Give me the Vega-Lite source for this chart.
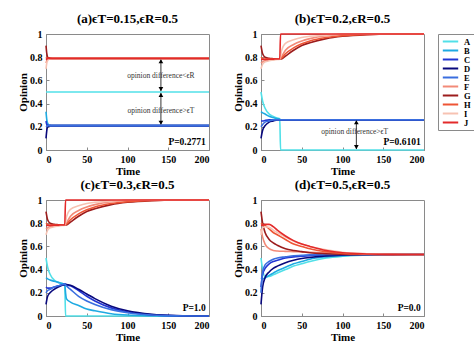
{
  "$schema": "https://vega.github.io/schema/vega-lite/v6.json",
  "padding": {"left": 17, "top": 12, "right": 5, "bottom": 2},
  "background": "white",
  "data": {"values": [
    {"p":"a","t":0,"A":0.5,"B":0.33,"C":0.25,"D":0.1,"E":0.2,"F":0.75,"G":0.9,"H":0.8,"I":0.7,"J":0.78},
    {"p":"a","t":1,"A":0.5,"B":0.26,"C":0.22,"D":0.17,"E":0.205,"F":0.77,"G":0.83,"H":0.795,"I":0.75,"J":0.785},
    {"p":"a","t":2,"A":0.5,"B":0.23,"C":0.215,"D":0.2,"E":0.208,"F":0.78,"G":0.8,"H":0.79,"I":0.77,"J":0.788},
    {"p":"a","t":3,"A":0.5,"B":0.22,"C":0.212,"D":0.205,"E":0.21,"F":0.785,"G":0.795,"H":0.79,"I":0.78,"J":0.79},
    {"p":"a","t":5,"A":0.5,"B":0.212,"C":0.21,"D":0.21,"E":0.21,"F":0.79,"G":0.79,"H":0.79,"I":0.787,"J":0.79},
    {"p":"a","t":8,"A":0.5,"B":0.21,"C":0.21,"D":0.21,"E":0.21,"F":0.79,"G":0.79,"H":0.79,"I":0.79,"J":0.79},
    {"p":"a","t":200,"A":0.5,"B":0.21,"C":0.21,"D":0.21,"E":0.21,"F":0.79,"G":0.79,"H":0.79,"I":0.79,"J":0.79},

    {"p":"b","t":0,"A":0.5,"B":0.33,"C":0.25,"D":0.1,"E":0.2,"F":0.75,"G":0.9,"H":0.8,"I":0.7,"J":0.78},
    {"p":"b","t":2,"A":0.42,"B":0.32,"C":0.25,"D":0.17,"E":0.22,"F":0.76,"G":0.83,"H":0.79,"I":0.74,"J":0.78},
    {"p":"b","t":5,"A":0.36,"B":0.31,"C":0.255,"D":0.21,"E":0.24,"F":0.77,"G":0.8,"H":0.785,"I":0.76,"J":0.78},
    {"p":"b","t":10,"A":0.31,"B":0.29,"C":0.26,"D":0.24,"E":0.25,"F":0.775,"G":0.79,"H":0.785,"I":0.77,"J":0.782},
    {"p":"b","t":15,"A":0.29,"B":0.28,"C":0.26,"D":0.25,"E":0.26,"F":0.78,"G":0.787,"H":0.785,"I":0.775,"J":0.783},
    {"p":"b","t":20,"A":0.275,"B":0.27,"C":0.26,"D":0.26,"E":0.26,"F":0.783,"G":0.785,"H":0.785,"I":0.78,"J":0.785},
    {"p":"b","t":23,"A":0.27,"B":0.265,"C":0.26,"D":0.26,"E":0.26,"F":0.785,"G":0.785,"H":0.785,"I":0.783,"J":0.785},
    {"p":"b","t":24,"A":0,"B":0.26,"C":0.26,"D":0.26,"E":0.26,"F":0.787,"G":0.785,"H":0.786,"I":0.8,"J":1},
    {"p":"b","t":25,"A":0,"B":0.26,"C":0.26,"D":0.26,"E":0.26,"F":0.8,"G":0.785,"H":0.79,"I":0.85,"J":1},
    {"p":"b","t":30,"A":0,"B":0.26,"C":0.26,"D":0.26,"E":0.26,"F":0.86,"G":0.81,"H":0.83,"I":0.92,"J":1},
    {"p":"b","t":40,"A":0,"B":0.26,"C":0.26,"D":0.26,"E":0.26,"F":0.91,"G":0.86,"H":0.88,"I":0.95,"J":1},
    {"p":"b","t":50,"A":0,"B":0.26,"C":0.26,"D":0.26,"E":0.26,"F":0.94,"G":0.9,"H":0.915,"I":0.97,"J":1},
    {"p":"b","t":60,"A":0,"B":0.26,"C":0.26,"D":0.26,"E":0.26,"F":0.96,"G":0.925,"H":0.94,"I":0.98,"J":1},
    {"p":"b","t":80,"A":0,"B":0.26,"C":0.26,"D":0.26,"E":0.26,"F":0.985,"G":0.96,"H":0.97,"I":0.99,"J":1},
    {"p":"b","t":100,"A":0,"B":0.26,"C":0.26,"D":0.26,"E":0.26,"F":0.995,"G":0.98,"H":0.985,"I":1,"J":1},
    {"p":"b","t":130,"A":0,"B":0.26,"C":0.26,"D":0.26,"E":0.26,"F":1,"G":0.995,"H":0.997,"I":1,"J":1},
    {"p":"b","t":160,"A":0,"B":0.26,"C":0.26,"D":0.26,"E":0.26,"F":1,"G":1,"H":1,"I":1,"J":1},
    {"p":"b","t":200,"A":0,"B":0.26,"C":0.26,"D":0.26,"E":0.26,"F":1,"G":1,"H":1,"I":1,"J":1},

    {"p":"c","t":0,"A":0.5,"B":0.33,"C":0.25,"D":0.1,"E":0.2,"F":0.75,"G":0.9,"H":0.8,"I":0.7,"J":0.78},
    {"p":"c","t":2,"A":0.42,"B":0.32,"C":0.24,"D":0.17,"E":0.22,"F":0.76,"G":0.83,"H":0.79,"I":0.74,"J":0.78},
    {"p":"c","t":5,"A":0.36,"B":0.31,"C":0.24,"D":0.2,"E":0.23,"F":0.77,"G":0.8,"H":0.785,"I":0.76,"J":0.78},
    {"p":"c","t":10,"A":0.31,"B":0.3,"C":0.25,"D":0.23,"E":0.25,"F":0.775,"G":0.79,"H":0.785,"I":0.77,"J":0.782},
    {"p":"c","t":15,"A":0.29,"B":0.29,"C":0.26,"D":0.25,"E":0.26,"F":0.78,"G":0.787,"H":0.785,"I":0.775,"J":0.783},
    {"p":"c","t":20,"A":0.28,"B":0.28,"C":0.27,"D":0.265,"E":0.27,"F":0.783,"G":0.785,"H":0.785,"I":0.78,"J":0.785},
    {"p":"c","t":23,"A":0.275,"B":0.275,"C":0.275,"D":0.27,"E":0.275,"F":0.785,"G":0.785,"H":0.785,"I":0.783,"J":0.785},
    {"p":"c","t":24,"A":0,"B":0.2,"C":0.275,"D":0.272,"E":0.27,"F":0.787,"G":0.785,"H":0.786,"I":0.8,"J":1},
    {"p":"c","t":25,"A":0,"B":0.15,"C":0.27,"D":0.272,"E":0.26,"F":0.8,"G":0.785,"H":0.79,"I":0.85,"J":1},
    {"p":"c","t":30,"A":0,"B":0.12,"C":0.26,"D":0.265,"E":0.23,"F":0.86,"G":0.81,"H":0.83,"I":0.92,"J":1},
    {"p":"c","t":40,"A":0,"B":0.09,"C":0.22,"D":0.23,"E":0.17,"F":0.91,"G":0.86,"H":0.88,"I":0.95,"J":1},
    {"p":"c","t":50,"A":0,"B":0.06,"C":0.17,"D":0.19,"E":0.13,"F":0.94,"G":0.9,"H":0.915,"I":0.97,"J":1},
    {"p":"c","t":60,"A":0,"B":0.045,"C":0.13,"D":0.15,"E":0.1,"F":0.96,"G":0.925,"H":0.94,"I":0.98,"J":1},
    {"p":"c","t":80,"A":0,"B":0.02,"C":0.07,"D":0.085,"E":0.055,"F":0.985,"G":0.96,"H":0.97,"I":0.99,"J":1},
    {"p":"c","t":100,"A":0,"B":0.008,"C":0.035,"D":0.045,"E":0.028,"F":0.995,"G":0.98,"H":0.985,"I":1,"J":1},
    {"p":"c","t":130,"A":0,"B":0.002,"C":0.01,"D":0.015,"E":0.008,"F":1,"G":0.995,"H":0.997,"I":1,"J":1},
    {"p":"c","t":160,"A":0,"B":0,"C":0.002,"D":0.004,"E":0.002,"F":1,"G":1,"H":1,"I":1,"J":1},
    {"p":"c","t":200,"A":0,"B":0,"C":0,"D":0,"E":0,"F":1,"G":1,"H":1,"I":1,"J":1},

    {"p":"d","t":0,"A":0.5,"B":0.33,"C":0.25,"D":0.1,"E":0.2,"F":0.75,"G":0.9,"H":0.8,"I":0.7,"J":0.78},
    {"p":"d","t":2,"A":0.4,"B":0.32,"C":0.36,"D":0.25,"E":0.38,"F":0.68,"G":0.8,"H":0.79,"I":0.76,"J":0.785},
    {"p":"d","t":5,"A":0.34,"B":0.33,"C":0.41,"D":0.33,"E":0.44,"F":0.62,"G":0.72,"H":0.78,"I":0.77,"J":0.79},
    {"p":"d","t":10,"A":0.34,"B":0.35,"C":0.45,"D":0.38,"E":0.47,"F":0.58,"G":0.66,"H":0.75,"I":0.765,"J":0.79},
    {"p":"d","t":15,"A":0.355,"B":0.37,"C":0.47,"D":0.41,"E":0.49,"F":0.565,"G":0.63,"H":0.72,"I":0.74,"J":0.77},
    {"p":"d","t":20,"A":0.37,"B":0.39,"C":0.48,"D":0.43,"E":0.5,"F":0.56,"G":0.61,"H":0.7,"I":0.72,"J":0.74},
    {"p":"d","t":30,"A":0.4,"B":0.42,"C":0.5,"D":0.46,"E":0.51,"F":0.557,"G":0.58,"H":0.66,"I":0.68,"J":0.69},
    {"p":"d","t":40,"A":0.43,"B":0.45,"C":0.51,"D":0.48,"E":0.52,"F":0.555,"G":0.565,"H":0.62,"I":0.645,"J":0.65},
    {"p":"d","t":50,"A":0.45,"B":0.47,"C":0.515,"D":0.495,"E":0.523,"F":0.553,"G":0.555,"H":0.6,"I":0.62,"J":0.62},
    {"p":"d","t":60,"A":0.47,"B":0.49,"C":0.52,"D":0.505,"E":0.527,"F":0.55,"G":0.545,"H":0.58,"I":0.6,"J":0.6},
    {"p":"d","t":80,"A":0.5,"B":0.51,"C":0.527,"D":0.518,"E":0.53,"F":0.545,"G":0.537,"H":0.555,"I":0.57,"J":0.565},
    {"p":"d","t":100,"A":0.515,"B":0.52,"C":0.53,"D":0.525,"E":0.53,"F":0.538,"G":0.533,"H":0.54,"I":0.55,"J":0.545},
    {"p":"d","t":130,"A":0.525,"B":0.528,"C":0.53,"D":0.53,"E":0.53,"F":0.533,"G":0.53,"H":0.533,"I":0.537,"J":0.535},
    {"p":"d","t":160,"A":0.53,"B":0.53,"C":0.53,"D":0.53,"E":0.53,"F":0.53,"G":0.53,"H":0.53,"I":0.532,"J":0.531},
    {"p":"d","t":200,"A":0.53,"B":0.53,"C":0.53,"D":0.53,"E":0.53,"F":0.53,"G":0.53,"H":0.53,"I":0.53,"J":0.53},

    {"p":"a","k":"rule","x":141,"y":0.775,"y2":0.51},
    {"p":"a","k":"rule","x":141,"y":0.49,"y2":0.225},
    {"p":"a","k":"up","x":141,"y":0.765},
    {"p":"a","k":"down","x":141,"y":0.525},
    {"p":"a","k":"up","x":141,"y":0.475},
    {"p":"a","k":"down","x":141,"y":0.235},
    {"p":"a","k":"txt","x":141,"y":0.635,"label":"opinion difference<ϵR"},
    {"p":"a","k":"txt","x":141,"y":0.335,"label":"opinion difference>ϵT"},
    {"p":"a","k":"P","x":196,"y":0.07,"label":"P=0.2771"},
    {"p":"b","k":"rule","x":117,"y":0.25,"y2":0.01},
    {"p":"b","k":"up","x":117,"y":0.24},
    {"p":"b","k":"down","x":117,"y":0.025},
    {"p":"b","k":"txt","x":115,"y":0.155,"label":"opinion difference>ϵT"},
    {"p":"b","k":"P","x":196,"y":0.07,"label":"P=0.6101"},
    {"p":"c","k":"P","x":196,"y":0.07,"label":"P=1.0"},
    {"p":"d","k":"P","x":196,"y":0.07,"label":"P=0.0"}
  ]},
  "facet": {
    "field": "p", "type": "nominal",
    "header": {
      "title": null,
      "labelExpr": "datum.value=='a'?'(a)ϵT=0.15,ϵR=0.5':datum.value=='b'?'(b)ϵT=0.2,ϵR=0.5':datum.value=='c'?'(c)ϵT=0.3,ϵR=0.5':'(d)ϵT=0.5,ϵR=0.5'",
      "labelFont": "Liberation Serif", "labelFontWeight": "bold", "labelFontSize": 13, "labelColor": "black", "labelPadding": 3
    }
  },
  "columns": 2,
  "spacing": {"column": 19, "row": 1},
  "resolve": {"axis": {"x": "independent", "y": "independent"}},
  "spec": {
    "width": 163,
    "height": 116,
    "layer": [
      {
        "transform": [{"filter": "isValid(datum.t)"}, {"fold": ["A","B","C","D","E","F","G","H","I","J"], "as": ["s","v"]}],
        "mark": {"type": "line", "strokeWidth": 1.6, "interpolate": "monotone"},
        "encoding": {
          "x": {"field": "t", "type": "quantitative", "title": "Time", "scale": {"domain": [0,200], "nice": false}, "axis": {"values": [0,50,100,150,200], "labelOverlap": false}},
          "y": {"field": "v", "type": "quantitative", "title": "Opinion", "scale": {"domain": [0,1], "nice": false}, "axis": {"values": [0,0.2,0.4,0.6,0.8,1], "format": ".1~f", "labelOverlap": false, "labelBound": false}},
          "color": {"field": "s", "type": "nominal",
            "scale": {"domain": ["A","B","C","D","E","F","G","H","I","J"],
              "range": ["#52e0e8","#1faae2","#2236d4","#08087c","#3a6edf","#f28a78","#9c1c1c","#ee5535","#f7c2b2","#e32a2a"]},
            "legend": {"title": null}},
          "detail": {"field": "s"}
        }
      },
      {
        "transform": [{"filter": "datum.k==='rule'"}],
        "mark": {"type": "rule", "color": "black", "strokeWidth": 0.8},
        "encoding": {
          "x": {"field": "x", "type": "quantitative", "title": "Time", "axis": {"values": [0,50,100,150,200], "labelOverlap": false}},
          "y": {"field": "y", "type": "quantitative", "title": "Opinion", "axis": {"values": [0,0.2,0.4,0.6,0.8,1], "format": ".1~f", "labelOverlap": false, "labelBound": false}},
          "y2": {"field": "y2"}
        }
      },
      {
        "transform": [{"filter": "datum.k==='up' || datum.k==='down'"}],
        "mark": {"type": "point", "filled": true, "color": "black", "size": 22, "opacity": 1},
        "encoding": {
          "x": {"field": "x", "type": "quantitative", "title": "Time", "axis": {"values": [0,50,100,150,200], "labelOverlap": false}},
          "y": {"field": "y", "type": "quantitative", "title": "Opinion", "axis": {"values": [0,0.2,0.4,0.6,0.8,1], "format": ".1~f", "labelOverlap": false, "labelBound": false}},
          "shape": {"field": "k", "type": "nominal", "scale": {"domain": ["up","down"], "range": ["triangle-up","triangle-down"]}, "legend": null}
        }
      },
      {
        "transform": [{"filter": "datum.k==='txt'"}],
        "mark": {"type": "text", "font": "Liberation Serif", "fontSize": 7.5, "color": "#333", "align": "center", "baseline": "middle"},
        "encoding": {
          "x": {"field": "x", "type": "quantitative", "title": "Time", "axis": {"values": [0,50,100,150,200], "labelOverlap": false}},
          "y": {"field": "y", "type": "quantitative", "title": "Opinion", "axis": {"values": [0,0.2,0.4,0.6,0.8,1], "format": ".1~f", "labelOverlap": false, "labelBound": false}},
          "text": {"field": "label"}
        }
      },
      {
        "transform": [{"filter": "datum.k==='P'"}],
        "mark": {"type": "text", "font": "Liberation Serif", "fontSize": 9.5, "fontWeight": "bold", "color": "black", "align": "right", "baseline": "middle"},
        "encoding": {
          "x": {"field": "x", "type": "quantitative", "title": "Time", "axis": {"values": [0,50,100,150,200], "labelOverlap": false}},
          "y": {"field": "y", "type": "quantitative", "title": "Opinion", "axis": {"values": [0,0.2,0.4,0.6,0.8,1], "format": ".1~f", "labelOverlap": false, "labelBound": false}},
          "text": {"field": "label"}
        }
      }
    ]
  },
  "config": {
    "view": {"stroke": "#8a8a8a", "strokeWidth": 1},
    "axis": {
      "grid": false,
      "domainColor": "#8a8a8a",
      "tickColor": "#8a8a8a",
      "tickSize": -3,
      "labelOverlap": false,
      "labelFont": "Liberation Serif", "labelFontWeight": "bold", "labelFontSize": 10, "labelColor": "black",
      "titleFont": "Liberation Serif", "titleFontWeight": "bold", "titleFontSize": 11, "titleColor": "black",
      "labelPadding": 7, "titlePadding": 1
    },
    "axisY": {"tickCount": 6},
    "legend": {
      "orient": "right",
      "strokeColor": "#8a8a8a", "fillColor": "white", "padding": 3,
      "labelFont": "Liberation Serif", "labelFontWeight": "bold", "labelFontSize": 8.5, "labelColor": "black",
      "symbolType": "M-2.2,0H2.2", "symbolStrokeWidth": 2, "symbolSize": 49, "symbolOffset": 5, "labelOffset": 9,
      "rowPadding": 0, "offset": 10
    }
  }
}
